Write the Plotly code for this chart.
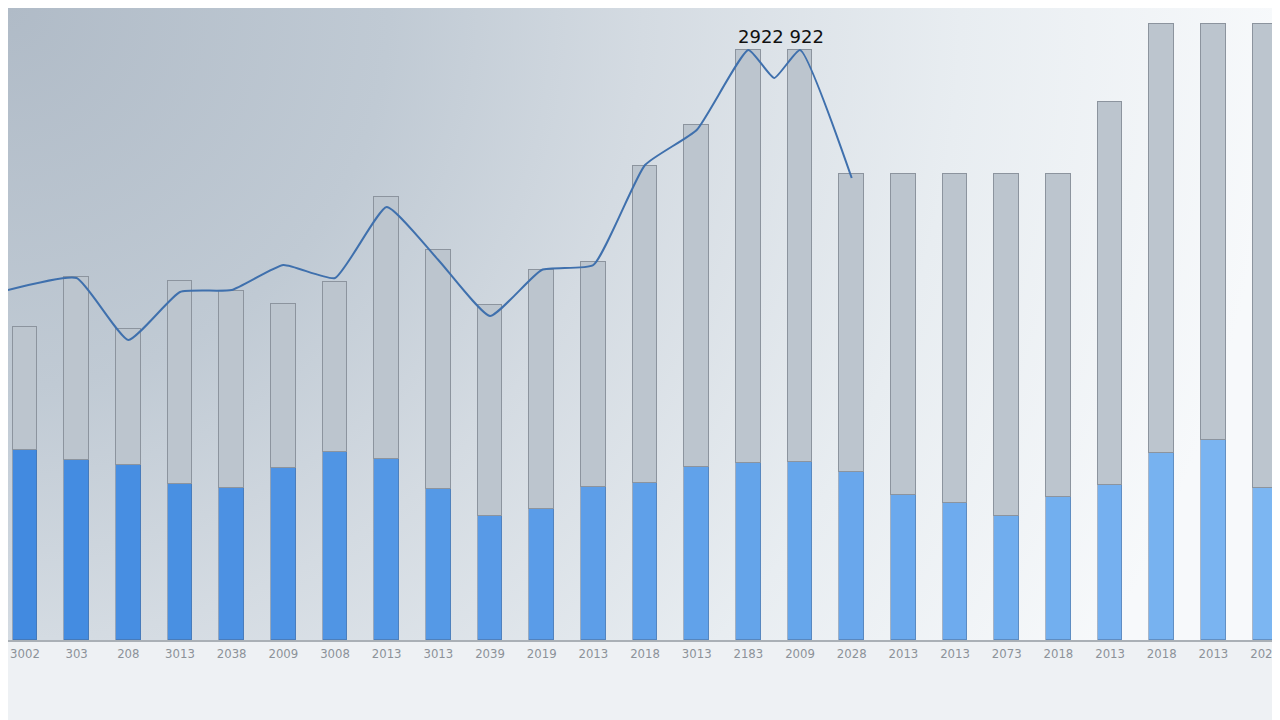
import plotly.graph_objects as go

# ---- data ----
tick_labels = ["3002", "303", "208", "3013", "2038", "2009", "3008", "2013", "3013", "2039",
               "2019", "2013", "2018", "3013", "2183", "2009", "2028", "2013", "2013", "2073",
               "2018", "2013", "2018", "2013", "2022"]
blue_vals = [950, 900, 875, 780, 760, 860, 940, 905, 755, 620, 655, 765, 785, 865, 885, 890,
             840, 725, 685, 620, 715, 775, 935, 1000, 760]
grey_vals = [615, 915, 680, 1015, 985, 820, 850, 1310, 1195, 1055, 1195, 1125, 1585, 1710,
             2065, 2060, 1490, 1605, 1645, 1710, 1615, 1915, 2145, 2080, 2320]
line_x = [-0.33, 1, 2, 3, 4, 5, 6, 7, 8, 9, 10, 11, 12, 13, 14, 14.5, 15, 16]
line_y = [1750, 1810, 1500, 1740, 1750, 1875, 1810, 2165, 1900, 1620, 1850, 1875, 2375,
          2550, 2950, 2810, 2950, 2310]
peak_label = "2922 922"
start_label = "6"

xs = list(range(len(tick_labels)))
n = len(xs)

def blend(c1, c2, t):
    return "rgb(%d,%d,%d)" % tuple(round(a + (b - a) * t) for a, b in zip(c1, c2))

blue_colors = [blend((66, 138, 224), (124, 182, 242), i / (n - 1)) for i in xs]

fig = go.Figure()

# background on subplot xy (drawn first, underneath)
fig.add_trace(go.Scatter(
    x=[-1, 1, 1, -1, -1], y=[-1, -1, 3, 3, -1], mode="lines", line=dict(width=0),
    fill="toself",
    fillgradient=dict(type="radial",
                      colorscale=[[0, "rgb(176,187,199)"], [0.3, "rgb(192,202,212)"],
                                  [0.5, "rgb(212,219,226)"], [0.75, "rgb(232,237,241)"],
                                  [1, "rgb(247,249,251)"]]),
    hoverinfo="skip", showlegend=False, xaxis="x", yaxis="y"))

# data on subplot x2y2 (drawn on top)
fig.add_trace(go.Bar(x=xs, y=blue_vals, marker=dict(color=blue_colors,
                     line=dict(color="rgba(70,100,140,0.45)", width=1)),
                     width=0.48, showlegend=False, hoverinfo="skip", xaxis="x2", yaxis="y2"))
fig.add_trace(go.Bar(x=xs, y=grey_vals, marker=dict(color="rgb(188,197,206)",
                     line=dict(color="rgb(140,148,158)", width=1.2)),
                     width=0.48, showlegend=False, hoverinfo="skip", xaxis="x2", yaxis="y2"))
fig.add_trace(go.Scatter(x=line_x, y=line_y, mode="lines",
                         line=dict(color="#3f70ad", width=2, shape="spline", smoothing=0.45),
                         showlegend=False, hoverinfo="skip", xaxis="x2", yaxis="y2"))

fig.add_annotation(x=14.63, y=3020, xref="x2", yref="y2", text=peak_label, showarrow=False,
                   font=dict(family="DejaVu Sans", size=18, color="#111"), yanchor="middle")
fig.add_annotation(x=-0.33, y=1740, xref="x2", yref="y2", text=start_label, showarrow=False,
                   xanchor="right",
                   font=dict(family="DejaVu Sans", size=16, color="#111"))

fig.update_layout(
    width=1272, height=712, barmode="stack", bargap=0,
    margin=dict(l=0, r=0, t=0, b=80),
    paper_bgcolor="#eef1f4", plot_bgcolor="rgba(0,0,0,0)",
    xaxis=dict(range=[0, 1], visible=False, domain=[0, 1], fixedrange=True),
    yaxis=dict(range=[0, 1], visible=False, domain=[0, 1], fixedrange=True),
    xaxis2=dict(range=[-0.3285, 24.25], anchor="y2", domain=[0, 1], tickvals=xs,
                ticktext=tick_labels, showgrid=False, zeroline=False, showline=True,
                linecolor="#aab0b6", linewidth=2, ticks="", ticklabeloverflow="allow",
                tickfont=dict(family="DejaVu Sans Condensed", size=13, color="#8c9299")),
    yaxis2=dict(range=[0, 3160], anchor="x2", domain=[0, 1], visible=False,
                showgrid=False, zeroline=False),
)

fig.write_html("out.html")
